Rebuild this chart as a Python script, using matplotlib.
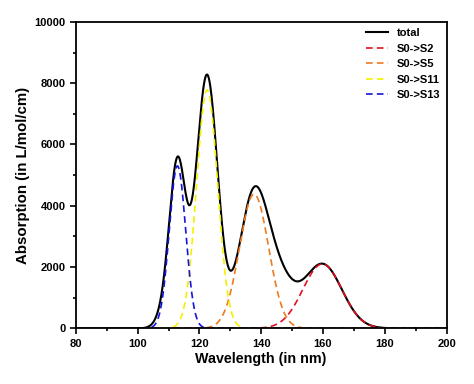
import numpy as np
import matplotlib
matplotlib.use("Agg")
import matplotlib.pyplot as plt
from matplotlib.ticker import MultipleLocator

plt.rcParams['font.family'] = ['Liberation Sans', 'DejaVu Sans']
plt.rcParams['font.weight'] = 'bold'

# --- Transitions (peak wavelength nm, peak height, width nm) ---
labels = ['S0->S2', 'S0->S5', 'S0->S11', 'S0->S13']
centers = [159.8, 137.7, 122.5, 112.9]
heights = [2100, 4380, 7780, 5300]
widths = [6.3, 4.7, 3.4, 2.65]
colors = ['#e01020', '#ee7a22', '#f2f200', '#1414e0']

# weaker transitions that only show up in the total curve
hidden_centers = [108.5, 121.0, 146.0]
hidden_heights = [340, 500, 1250]
hidden_widths = [2.5, 4.3, 4.5]

wl = np.arange(80, 200.01, 0.1)


def band(c, h, w):
    return h * np.exp(-0.5 * ((wl - c) / w) ** 2)


bands = [band(c, h, w) for c, h, w in zip(centers, heights, widths)]
total = sum(bands) + sum(band(c, h, w) for c, h, w in
                         zip(hidden_centers, hidden_heights, hidden_widths))

fig = plt.figure(figsize=(4.74, 3.84), dpi=100)
ax = fig.add_axes([0.160, 0.145, 0.782, 0.798])

ax.plot(wl, total, color='black', lw=1.5, label='total')
for b, lab, col in zip(bands, labels, colors):
    ax.plot(wl, b, color=col, lw=1.2, ls=(0, (4, 2.5)), label=lab)

ax.set_xlim(80, 200)
ax.set_ylim(0, 10000)
ax.xaxis.set_major_locator(MultipleLocator(20))
ax.xaxis.set_minor_locator(MultipleLocator(10))
ax.yaxis.set_major_locator(MultipleLocator(2000))
ax.yaxis.set_minor_locator(MultipleLocator(1000))
ax.tick_params(which='both', direction='out', top=False, right=False,
               labelsize=8, width=1.2)
ax.tick_params(which='major', length=4)
ax.tick_params(which='minor', length=2.5)
for s in ax.spines.values():
    s.set_linewidth(1.3)

ax.set_xlabel('Wavelength (in nm)', fontsize=10.3, fontweight='bold', labelpad=2)
ax.set_ylabel('Absorption (in L/mol/cm)', fontsize=10.8, fontweight='bold', labelpad=3)

ax.legend(loc='upper right', frameon=False, fontsize=8, handlelength=2.0,
          labelspacing=0.5, borderaxespad=0.15)

fig.savefig('out.png', dpi=100)
